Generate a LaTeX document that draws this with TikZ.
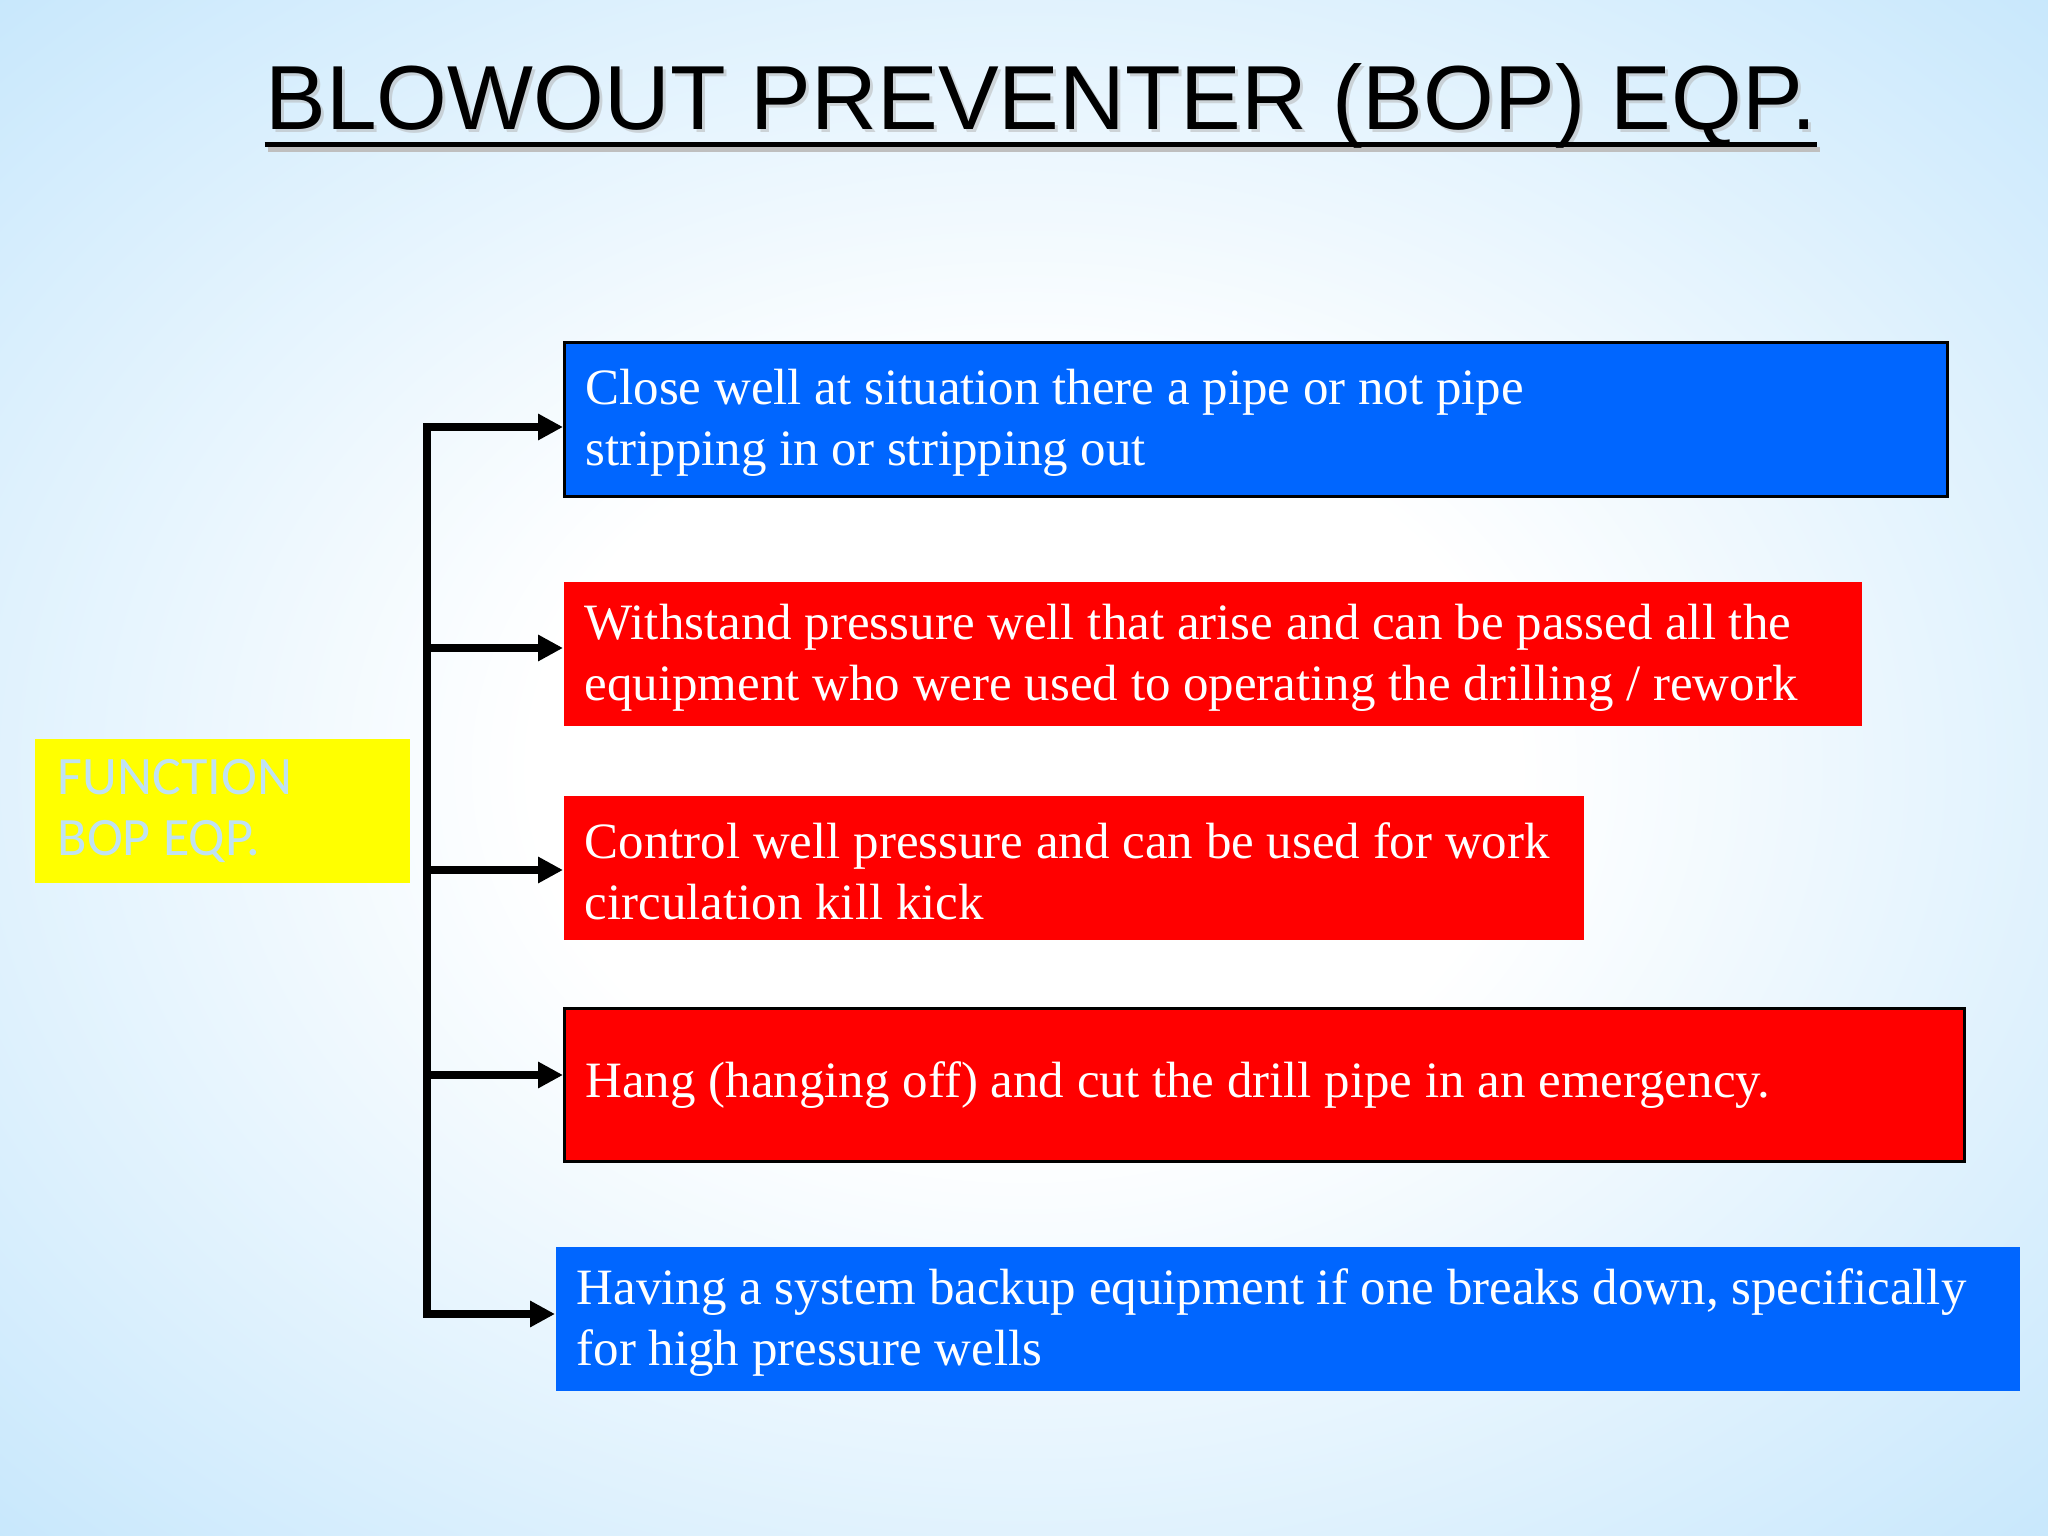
\documentclass[tikz,border=0pt]{standalone}
\usepackage{fontspec}
\setmainfont{Liberation Serif}
\newfontfamily\titlefont{Liberation Sans}
\newfontfamily\funcfont{Carlito}
\usetikzlibrary{arrows.meta}

\definecolor{bgblue}{RGB}{180,223,251}
\definecolor{boxblue}{RGB}{0,102,255}
\definecolor{boxred}{RGB}{255,0,0}
\definecolor{funcyellow}{RGB}{255,255,0}
\definecolor{functext}{RGB}{192,226,242}
\pgfdeclareradialshading{slidebg}{\pgfpoint{0bp}{0bp}}{color(0bp)=(white); color(12bp)=(white); color(44bp)=(bgblue); color(80bp)=(bgblue)}

\tikzset{
  task/.style={anchor=north west, text=white, align=flush left, inner xsep=0.21cm, inner ysep=0pt,
    font=\fontsize{14.5pt}{17.4pt}\selectfont, execute at begin node=\strut},
  bluetask/.style={task, fill=boxblue},
  redtask/.style={task, fill=boxred},
  framed/.style={draw=black, line width=0.03cm},
  feed/.style={line width=0.08cm, -{Triangle[length=0.25cm, width=0.25cm]}},
}

\begin{document}
\begin{tikzpicture}
%
% functions of the blowout preventer

%% background
\useasboundingbox (0,0) rectangle (20.48,-15.36);
\shade[shading=slidebg] (0,0) rectangle (20.48,-15.36);

%% heading
\node[anchor=base, inner sep=0, text=black!30, opacity=0.5] (titleshadow) at (10.44,-1.33)
	{\titlefont\fontsize{25.9pt}{30pt}\selectfont BLOWOUT PREVENTER (BOP) EQP.};
\draw[line width=0.05cm, black!25] ([yshift=-0.17cm]titleshadow.base west) -- ([yshift=-0.17cm]titleshadow.base east);
\node[anchor=base, inner sep=0] (title) at (10.41,-1.30)
	{\titlefont\fontsize{25.9pt}{30pt}\selectfont BLOWOUT PREVENTER (BOP) EQP.};
\draw[line width=0.05cm] ([yshift=-0.15cm]title.base west) -- ([yshift=-0.15cm]title.base east);

%% root
\node[anchor=north west, fill=funcyellow, text=functext, align=flush left, inner xsep=0.23cm,
	text width=3.29cm, minimum height=1.44cm,
	font=\funcfont\fontsize{15.4pt}{17.4pt}\selectfont] (func) at (0.34,-7.38) {FUNCTION\\BOP EQP.};

%% the five functions
\node[bluetask, framed, text width=13.41cm, minimum height=1.54cm] (close) at (5.63,-3.41)
	{Close well at situation there a pipe or not pipe\\stripping in or stripping out};
\node[redtask, text width=12.56cm, minimum height=1.44cm] (withstand) at (5.63,-5.81)
	{Withstand pressure well that arise and can be passed all the\\equipment who were used to operating the drilling / rework};
\node[redtask, text width=9.78cm, minimum height=1.44cm] (control) at (5.63,-7.95)
	{Control well pressure and can be used for work\\circulation kill kick};
\node[redtask, framed, text width=13.58cm, minimum height=1.53cm] (hang) at (5.63,-10.07)
	{Hang (hanging off) and cut the drill pipe in an emergency.};
\node[bluetask, text width=14.22cm, minimum height=1.44cm] (backup) at (5.55,-12.46)
	{Having a system backup equipment if one breaks down, specifically\\for high pressure wells};

%% trunk
\coordinate (t1) at (4.27,-4.27);
\coordinate (t2) at (4.27,-6.48);
\coordinate (t3) at (4.27,-8.70);
\coordinate (t4) at (4.27,-10.75);
\coordinate (t5) at (4.27,-13.14);
\draw[line width=0.08cm, line cap=rect] (t1) -- (t5);

%% arrows
\draw[feed] (t1) -- (t1 -| close.west);
\draw[feed] (t2) -- (t2 -| withstand.west);
\draw[feed] (t3) -- (t3 -| control.west);
\draw[feed] (t4) -- (t4 -| hang.west);
\draw[feed] (t5) -- (t5 -| backup.west);
\end{tikzpicture}
\end{document}
